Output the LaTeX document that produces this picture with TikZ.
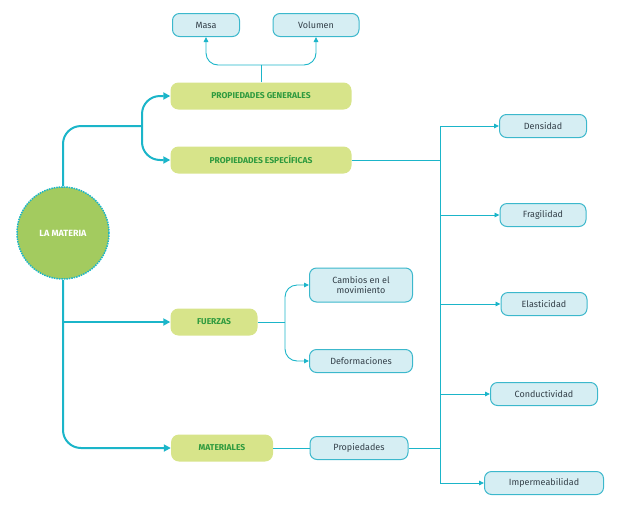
\documentclass[tikz,border=0pt]{standalone}
\usepackage{fontspec}
\setmainfont{Fira Sans}
\usetikzlibrary{arrows.meta,decorations.pathmorphing}
\definecolor{cy}{HTML}{1BB5C9}
\definecolor{gfill}{HTML}{D7E48A}
\definecolor{gtext}{HTML}{2E9A3E}
\definecolor{circ}{HTML}{A3CB5F}
\definecolor{bfill}{HTML}{D6EEF3}
\definecolor{bdraw}{HTML}{3CB8CC}
\definecolor{txt}{HTML}{333F48}
\begin{document}
\begin{tikzpicture}[x=1pt,y=-1pt,
  gbox/.style={rounded corners=8pt,fill=gfill,text=gtext,font=\bfseries\fontsize{8.5}{10}\selectfont,minimum height=27pt,inner sep=0pt},
  bbox/.style={rounded corners=7pt,fill=bfill,draw=bdraw,line width=1pt,text=txt,font=\fontsize{9}{10.5}\selectfont,minimum height=23pt,inner sep=0pt,align=center},
  thick/.style={cy,line width=2pt,rounded corners=18pt},
  thin/.style={cy,line width=0.9pt,rounded corners=12pt},
  big/.style={-{Triangle[length=7pt,width=7pt]}},
  sm/.style={-{Triangle[length=5pt,width=4.5pt]}}]
\useasboundingbox (0,0) rectangle (620,509);
\node[circle,fill=circ,draw=cy,densely dotted,line width=1.5pt,minimum size=92pt,text=white,font=\bfseries\fontsize{9}{10}\selectfont] (m) at (63,233) {LA MATERIA};
\node[gbox,minimum width=181pt] (pg) at (261,96) {PROPIEDADES GENERALES};
\node[gbox,minimum width=181pt] (pe) at (261,160) {PROPIEDADES ESPECÍFICAS};
\node[gbox,minimum width=87pt] (fu) at (214,322) {FUERZAS};
\node[gbox,minimum width=102pt] (ma) at (222,448) {MATERIALES};
\node[bbox,minimum width=67pt] (masa) at (206,25) {Masa};
\node[bbox,minimum width=86pt] (vol) at (316,25) {Volumen};
\node[bbox,minimum width=103pt,minimum height=34pt] (ca) at (361,285) {Cambios en el\\[-1pt]movimiento};
\node[bbox,minimum width=103pt] (de) at (361,361) {Deformaciones};
\node[bbox,minimum width=98pt] (pr) at (359,448) {Propiedades};
\node[bbox,minimum width=87pt] (d1) at (543,126) {Densidad};
\node[bbox,minimum width=86pt] (d2) at (543,215) {Fragilidad};
\node[bbox,minimum width=86pt] (d3) at (544,304) {Elasticidad};
\node[bbox,minimum width=107pt] (d4) at (544,394) {Conductividad};
\node[bbox,minimum width=119pt] (d5) at (544,483) {Impermeabilidad};
\coordinate (j) at (142,126);
\coordinate (v) at (440,160);
% main trunk
\draw[thick] (m.north) |- (j);
\draw[thick,big] (j) |- (pg.west);
\draw[thick,big] (j) |- (pe.west);
\draw[thick,big] (m.south) |- (ma.west);
\draw[thick,big] (m.south |- fu) -- (fu.west);
% general props
\draw[thin] (pg.north) -- (261,65);
\draw[thin,sm] (261,65) -| (masa.south);
\draw[thin,sm] (261,65) -| (vol.south);
% fuerzas
\draw[thin] (fu.east) -- (285,322);
\draw[thin,sm] (285,322) |- (ca.west);
\draw[thin,sm] (285,322) |- (de.west);
% materiales
\draw[thin] (ma.east) -- (pr.west);
\draw[thin] (pr.east) -- (440,448);
\draw[thin] (pe.east) -- (v);
\draw[cy,line width=0.9pt] (440,126) -- (440,483);
\foreach \n in {d1,d2,d3,d4,d5}
  \draw[cy,line width=0.9pt,sm] (440,0 |- \n) -- (\n.west);
\end{tikzpicture}
\end{document}
